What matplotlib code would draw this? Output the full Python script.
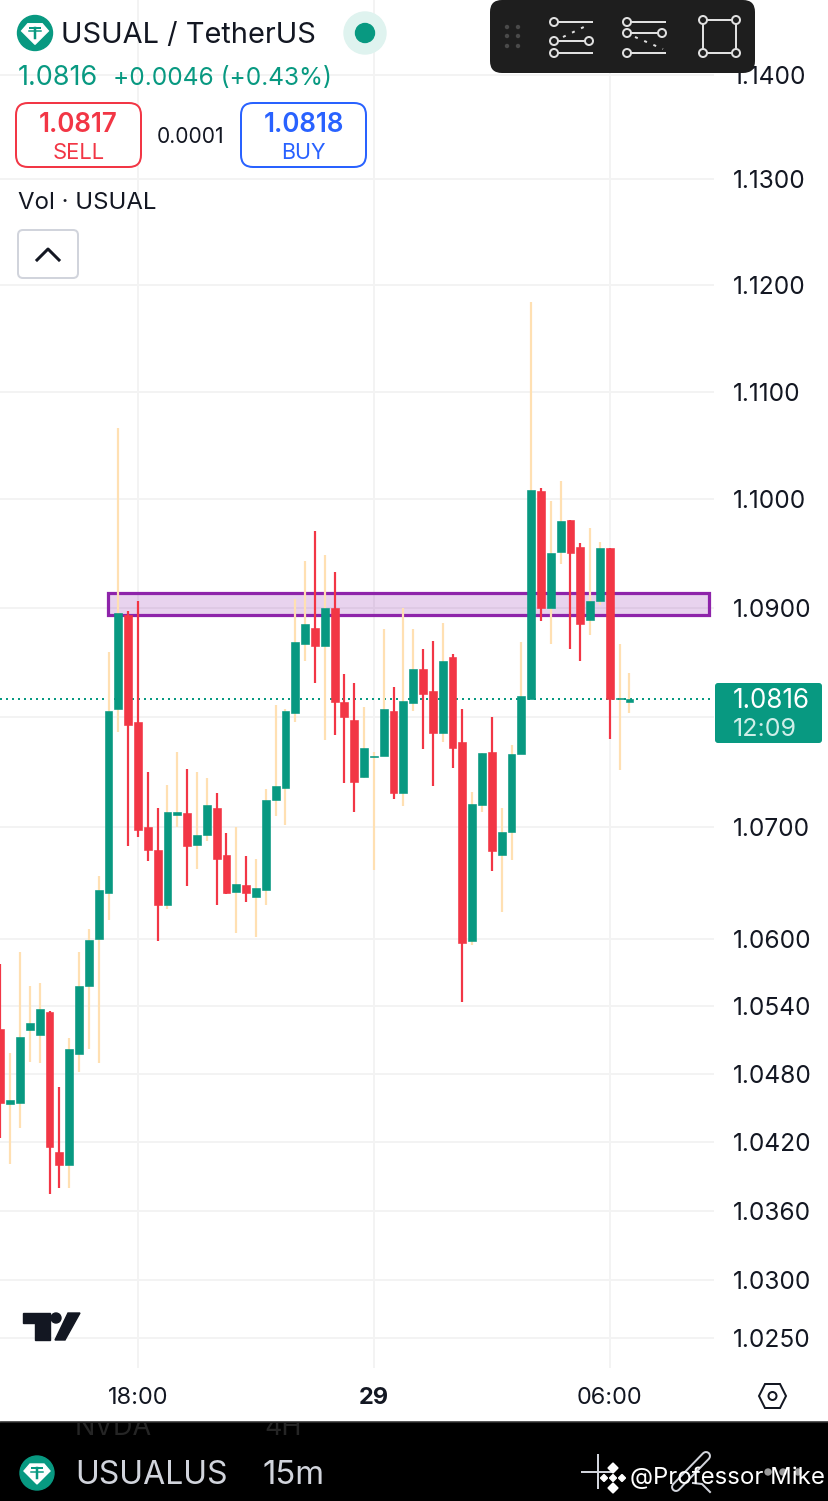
import numpy as np
import matplotlib
matplotlib.use('Agg')
import matplotlib.pyplot as plt
from matplotlib import patches
from matplotlib.ticker import NullLocator

plt.rcParams['font.family'] = ['Inter', 'DejaVu Sans']

# 15m candles, the first one is 14 bars before 18:00
first_bar = -14
bar_open = [1.0520, 1.0454, 1.0455, 1.0519, 1.0515, 1.0535, 1.0412, 1.0400, 1.0498, 1.0558,
            1.0600, 1.0641, 1.0807, 1.0893, 1.0795, 1.0700, 1.0680, 1.0630, 1.0711, 1.0713,
            1.0684, 1.0693, 1.0718, 1.0675, 1.0642, 1.0648, 1.0638, 1.0644, 1.0725, 1.0736,
            1.0804, 1.0867, 1.0881, 1.0865, 1.0900, 1.0814, 1.0797, 1.0746, 1.0764, 1.0765,
            1.0805, 1.0731, 1.0813, 1.0844, 1.0824, 1.0785, 1.0855, 1.0777, 1.0598, 1.0720,
            1.0768, 1.0675, 1.0696, 1.0766, 1.0816, 1.1007, 1.0900, 1.0951, 1.0981, 1.0956,
            1.0889, 1.0906, 1.0955, 1.0816, 1.0814]
bar_high = [1.0578, 1.0499, 1.0588, 1.0558, 1.0561, 1.0536, 1.0469, 1.0512, 1.0588, 1.0609,
            1.0656, 1.0859, 1.1066, 1.0897, 1.0906, 1.0750, 1.0718, 1.0738, 1.0768, 1.0753,
            1.0750, 1.0745, 1.0731, 1.0695, 1.0700, 1.0674, 1.0672, 1.0735, 1.0811, 1.0807,
            1.0908, 1.0943, 1.0970, 1.0948, 1.0933, 1.0839, 1.0831, 1.0809, 1.0768, 1.0880,
            1.0827, 1.0900, 1.0880, 1.0862, 1.0869, 1.0886, 1.0857, 1.0807, 1.0732, 1.0767,
            1.0800, 1.0718, 1.0775, 1.0868, 1.1184, 1.1010, 1.0998, 1.1017, 1.0981, 1.0959,
            1.0973, 1.0960, 1.0955, 1.0867, 1.0840]
bar_low = [1.0424, 1.0401, 1.0433, 1.0491, 1.0490, 1.0375, 1.0380, 1.0380, 1.0482, 1.0502,
           1.0490, 1.0617, 1.0786, 1.0683, 1.0691, 1.0670, 1.0598, 1.0627, 1.0700, 1.0647,
           1.0663, 1.0688, 1.0630, 1.0640, 1.0605, 1.0633, 1.0602, 1.0630, 1.0710, 1.0702,
           1.0795, 1.0851, 1.0831, 1.0779, 1.0784, 1.0740, 1.0714, 1.0745, 1.0662, 1.0765,
           1.0726, 1.0719, 1.0805, 1.0771, 1.0737, 1.0777, 1.0754, 1.0544, 1.0595, 1.0714,
           1.0661, 1.0624, 1.0671, 1.0766, 1.0816, 1.0888, 1.0867, 1.0940, 1.0862, 1.0851,
           1.0875, 1.0902, 1.0780, 1.0752, 1.0804]
bar_close = [1.0455, 1.0457, 1.0513, 1.0525, 1.0538, 1.0416, 1.0400, 1.0502, 1.0558, 1.0599,
             1.0644, 1.0805, 1.0895, 1.0793, 1.0698, 1.0680, 1.0630, 1.0714, 1.0714, 1.0683,
             1.0693, 1.0720, 1.0672, 1.0641, 1.0649, 1.0641, 1.0646, 1.0725, 1.0737, 1.0805,
             1.0868, 1.0885, 1.0865, 1.0900, 1.0814, 1.0800, 1.0741, 1.0772, 1.0765, 1.0807,
             1.0731, 1.0815, 1.0844, 1.0821, 1.0785, 1.0851, 1.0772, 1.0596, 1.0721, 1.0767,
             1.0679, 1.0696, 1.0766, 1.0819, 1.1008, 1.0900, 1.0950, 1.0980, 1.0950, 1.0885,
             1.0906, 1.0955, 1.0816, 1.0817, 1.0816]

price_ticks = [1.14, 1.13, 1.12, 1.11, 1.10, 1.09, 1.08, 1.07, 1.06, 1.054, 1.048, 1.042, 1.036, 1.03, 1.025]
# 1.0800 sits behind the last price label, so it gets no text
price_labels = ['1.1400', '1.1300', '1.1200', '1.1100', '1.1000', '1.0900', '', '1.0700', '1.0600',
                '1.0540', '1.0480', '1.0420', '1.0360', '1.0300', '1.0250']
time_ticks = [0, 24, 48]
time_labels = ['18:00', '29', '06:00']
last_price = 1.0816
zone_low = 1.0893
zone_high = 1.0913
zone_start = -3.05
zone_end = 58.05

GREEN = '#089981'
RED = '#F23645'
WICK = '#FFE0B2'
BLUE = '#2962FF'
PURPLE = '#8E24AA'
DARK = '#131722'
W, H = 829, 1501


def px(v):
    # pixels to points at dpi 100
    return v * 0.72


fig = plt.figure(figsize=(W / 100, H / 100), dpi=100, facecolor='white')

# main chart: log price scale
ax = fig.add_axes([0, 1 - 1368 / H, 714 / W, 1368 / H])
ax.set_yscale('log')
ax.set_xlim(-14.04, 58.6)
ax.set_ylim(1.0224, 1.1472)
ax.set_yticks(price_ticks, price_labels)
ax.yaxis.set_minor_locator(NullLocator())
ax.yaxis.tick_right()
ax.set_xticks(time_ticks, time_labels)
ax.get_xticklabels()[1].set_fontweight('bold')
ax.tick_params(axis='y', length=0, pad=px(19), labelsize=px(24.5), labelcolor=DARK)
ax.tick_params(axis='x', length=0, pad=px(19), labelsize=px(23.5), labelcolor=DARK)
ax.grid(color='#F3F3F3', lw=px(2))
ax.set_axisbelow(True)
for s in ax.spines.values():
    s.set_visible(False)

ax.add_patch(patches.Rectangle((zone_start, zone_low), zone_end - zone_start, zone_high - zone_low,
                               facecolor=PURPLE, alpha=0.2, lw=0, zorder=2))
ax.add_patch(patches.Rectangle((zone_start, zone_low), zone_end - zone_start, zone_high - zone_low,
                               facecolor='none', edgecolor=PURPLE, lw=px(3.2), zorder=2))
ax.axhline(last_price, color=GREEN, lw=px(2), ls=(0, (1, 2.0)), zorder=2.5)

# candles
xs = np.arange(len(bar_open)) + first_bar
for x, o, h, l, c in zip(xs, bar_open, bar_high, bar_low, bar_close):
    up = c >= o
    ax.vlines(x, l, h, color=WICK if up else RED, lw=px(2.2), zorder=3)
    ax.bar(x, abs(c - o), bottom=min(o, c), width=0.8, color=GREEN if up else RED,
           edgecolor=GREEN if up else RED, lw=px(0.6), zorder=4)

# overlay in screen pixels for the app chrome
ui = fig.add_axes([0, 0, 1, 1], facecolor='none')
ui.set_xlim(0, W)
ui.set_ylim(H, 0)
ui.axis('off')


def label(x, y, s, size, color=DARK, ha='left', weight='normal', **kw):
    # va=center sits about 2px high for this font
    return ui.text(x, y + 2, s, fontsize=px(size), color=color, ha=ha, va='center', fontweight=weight, **kw)


def round_box(x0, y0, x1, y1, r, fc='none', ec='none', lw=0):
    box = patches.FancyBboxPatch((x0 + r, y0 + r), x1 - x0 - 2 * r, y1 - y0 - 2 * r,
                                 boxstyle=f'round,pad={r},rounding_size={r}',
                                 facecolor=fc, edgecolor=ec, lw=px(lw))
    ui.add_patch(box)
    return box


def tether_logo(cx, cy, r):
    ui.add_patch(patches.Circle((cx, cy), r, color=GREEN, zorder=2))
    k = r / 17
    ui.add_patch(patches.Polygon([(cx - 7 * k, cy - 9 * k), (cx + 7 * k, cy - 9 * k), (cx + 13 * k, cy - 2 * k),
                                  (cx, cy + 11 * k), (cx - 13 * k, cy - 2 * k)], color='white', zorder=2))
    ui.plot([cx - 5 * k, cx + 5 * k], [cy - 5 * k, cy - 5 * k], color=GREEN, lw=px(2), zorder=2)
    ui.plot([cx - 6 * k, cx + 6 * k], [cy - 1.5 * k, cy - 1.5 * k], color=GREEN, lw=px(1.5), zorder=2)
    ui.plot([cx, cx], [cy - 5 * k, cy + 5 * k], color=GREEN, lw=px(2.5), zorder=2)


# header
tether_logo(35, 33, 17.5)
label(61, 33, 'USUAL / TetherUS', 29)
ui.add_patch(patches.Circle((365, 33), 21, color='#DFF3EF'))
ui.add_patch(patches.Circle((365, 33), 9.5, color=GREEN))
label(18, 76, '1.0816', 27, GREEN)
label(113, 76, '+0.0046 (+0.43%)', 24.5, GREEN)

round_box(16, 103, 141, 167, 12, fc='white', ec=RED, lw=2)
label(78.5, 123, '1.0817', 26, RED, ha='center', weight='semibold')
label(78.5, 151, 'SELL', 22, RED, ha='center')
label(190.5, 135, '0.0001', 21, ha='center')
round_box(241, 103, 366, 167, 12, fc='white', ec=BLUE, lw=2)
label(303.5, 123, '1.0818', 26, BLUE, ha='center', weight='semibold')
label(303.5, 151, 'BUY', 21.5, BLUE, ha='center')

label(18, 201, 'Vol · USUAL', 24)
round_box(18, 230, 78, 278, 5, fc='white', ec='#D1D4DC', lw=2)
ui.plot([37, 48, 59], [260, 249, 260], color=DARK, lw=px(3))

# drawing toolbar
round_box(490, 0, 755, 73, 12, fc='#1E1E1E')
for dx in (507, 518):
    for dy in (27, 36, 46):
        ui.add_patch(patches.Circle((dx, dy), 1.5, color='#4A4A4A'))
TOOL = '#E0E0E0'


def handle(x, y):
    ui.add_patch(patches.Circle((x, y), 4, facecolor='#1E1E1E', edgecolor=TOOL, lw=px(2), zorder=5))


def tool_line(x0, y0, x1, y1, dotted=False):
    ui.plot([x0, x1], [y0, y1], color=TOOL, lw=px(2), ls=(0, (1.5, 3.5)) if dotted else '-')


for x0, x1, y in [(554, 592, 22), (554, 589, 41), (554, 592, 53), (627, 665, 22), (627, 662, 33), (627, 665, 53)]:
    tool_line(x0, y, x1, y)
    handle(x0, y)
handle(589, 41)
handle(662, 33)
tool_line(563, 37, 588, 25, dotted=True)
tool_line(635, 37, 663, 49, dotted=True)
ui.add_patch(patches.Rectangle((703, 20), 33, 33, fill=False, edgecolor=TOOL, lw=px(2)))
for x, y in [(703, 20), (736, 20), (736, 53), (703, 53)]:
    handle(x, y)

# price label on the scale
round_box(715, 683, 822, 743, 3, fc=GREEN)
label(733, 699, '1.0816', 26, 'white')
label(733, 727, '12:09', 25, '#CFEEE8')

# TradingView mark
ui.add_patch(patches.Polygon([(23, 1313), (50, 1313), (50, 1340), (35, 1340), (35, 1323), (23, 1323)], color=DARK))
ui.add_patch(patches.Circle((56, 1318), 5, color=DARK))
ui.add_patch(patches.Polygon([(68, 1313), (80, 1313), (65, 1340), (55, 1340)], color=DARK))

# settings hexagon
ui.add_patch(patches.Polygon([(759, 1396), (765, 1384), (780, 1384), (786, 1396), (780, 1408), (765, 1408)],
                             fill=False, edgecolor=DARK, lw=px(2)))
ui.add_patch(patches.Circle((772.5, 1396), 4, fill=False, edgecolor=DARK, lw=px(2)))

# bottom bar
ui.add_patch(patches.Rectangle((0, 1422), W, 79, color='black', zorder=1))
ui.plot([0, W], [1422, 1422], color='#333333', lw=px(1.5), zorder=1.5)
nvda = label(75, 1426, 'NVDA', 27, '#252525', zorder=2, clip_on=True)
four_h = label(264, 1426, '4H', 27, '#252525', zorder=2, clip_on=True)
nvda.set_clip_path(patches.Rectangle((0, 1423), W, 78, transform=ui.transData))
four_h.set_clip_path(patches.Rectangle((0, 1423), W, 78, transform=ui.transData))
tether_logo(37, 1473, 17)
# the symbol is cut off by the next column in the app
sym = label(75, 1473, 'USUALUSD', 32, '#D1D4DC', zorder=2, clip_on=True)
sym.set_clip_path(patches.Rectangle((60, 1440), 168, 60, transform=ui.transData))
label(263, 1473, '15m', 33, '#D1D4DC', zorder=2)
ui.plot([582, 613], [1472, 1472], color='#D1D4DC', lw=px(2), zorder=2)
ui.plot([598, 598], [1455, 1488], color='#D1D4DC', lw=px(2), zorder=2)
# pen icon: capsule outline and tail
ui.plot([676, 706], [1487, 1456], color='#D1D4DC', lw=px(10), solid_capstyle='round', zorder=2)
ui.plot([676, 706], [1487, 1456], color='black', lw=px(6), solid_capstyle='round', zorder=2.1)
ui.plot([693, 702, 710], [1483, 1484, 1492], color='#D1D4DC', lw=px(2), zorder=2)
for x in (768, 783, 798):
    ui.add_patch(patches.Circle((x, 1472), 3, color='#999999', zorder=2))
for x, y, r in [(613, 1468, 5), (604, 1478, 3.5), (622, 1478, 3.5), (613, 1488, 5), (613, 1478, 3.5)]:
    ui.add_patch(patches.RegularPolygon((x, y), 4, radius=r, color='white', zorder=2.5))
label(630, 1476, '@Professor Mike', 24, 'white', zorder=3)

fig.savefig('out.png', dpi=100)
